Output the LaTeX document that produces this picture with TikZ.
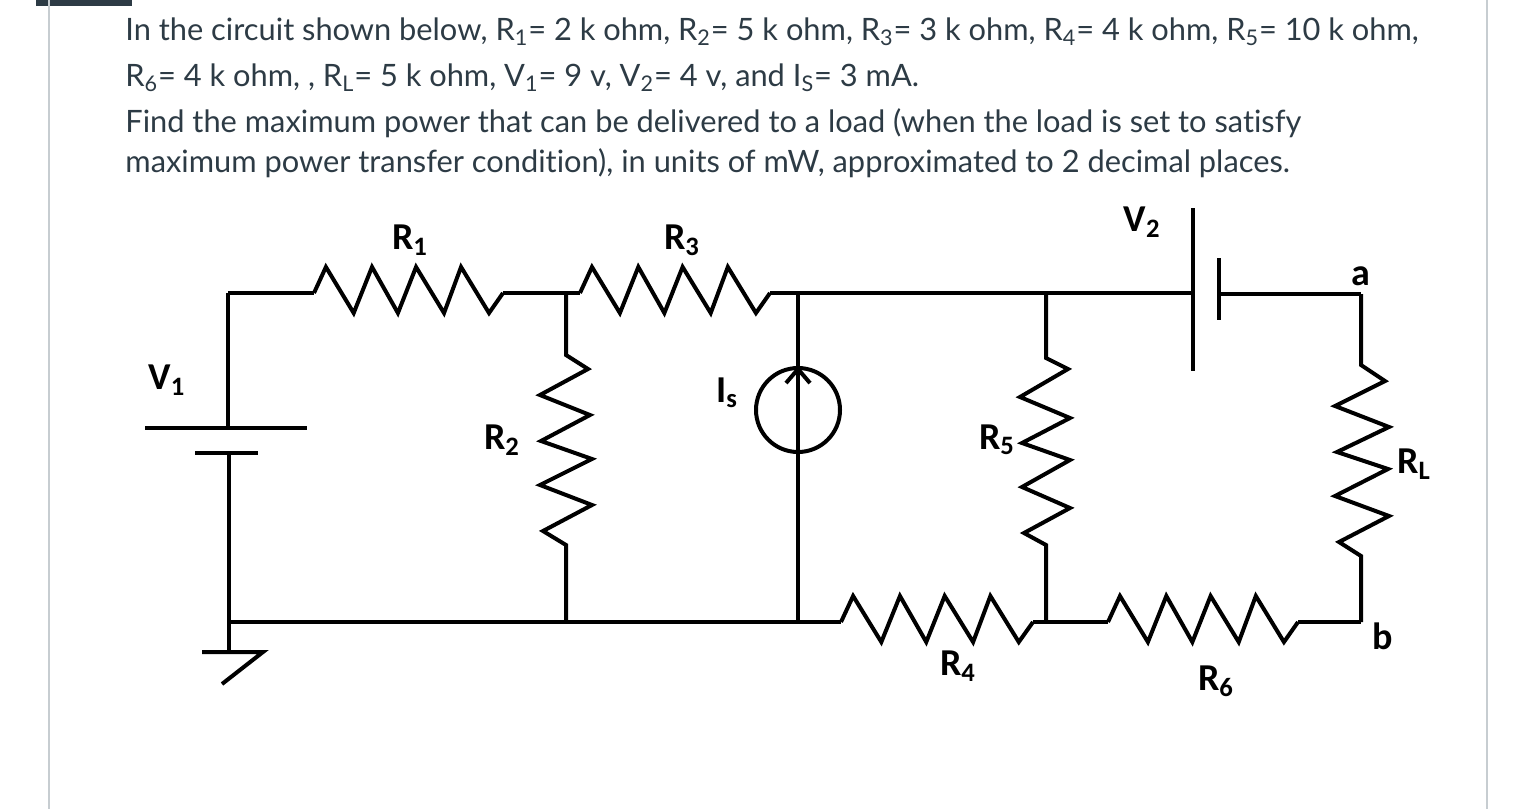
\documentclass[tikz,border=0pt]{standalone}
\usepackage{fontspec}
\usetikzlibrary{arrows.meta}
\setmainfont{Lato}[Ligatures=NoCommon]
\newfontfamily\lblfont{Carlito}
\definecolor{txt}{HTML}{2D3B45}
\definecolor{frame}{HTML}{C7CDD1}
\begin{document}
\begin{tikzpicture}[x=0.5pt,y=-0.5pt,
  wire/.style={line width=2pt,line join=miter},
  lbl/.style={font=\lblfont\bfseries\fontsize{19}{21}\selectfont,inner sep=0pt},
  qtext/.style={font=\fontsize{15.4}{18}\selectfont,color=txt,anchor=base west,inner sep=0pt}]
\useasboundingbox (0,0) rectangle (1536,809);
\fill[white] (0,0) rectangle (1536,809);
\fill[txt] (36,0) rectangle (132,6);
\draw[frame,line width=1pt] (49,0) -- (49,809);
\draw[frame,line width=1pt] (1487,0) -- (1487,809);

\node[qtext] (t1) at (125,40) {In the circuit shown below, R\textsubscript{1}= 2 k ohm, R\textsubscript{2}= 5 k ohm, R\textsubscript{3}= 3 k ohm, R\textsubscript{4}= 4 k ohm, R\textsubscript{5}= 10 k ohm,};
\node[qtext] (t2) at (125,86) {R\textsubscript{6}= 4 k ohm, , R\textsubscript{L}= 5 k ohm, V\textsubscript{1}= 9 v, V\textsubscript{2}= 4 v, and I\textsubscript{S}= 3 mA.};
\node[qtext] (t3) at (125,132) {Find the maximum power that can be delivered to a load (when the load is set to satisfy};
\node[qtext] (t4) at (125,172) {maximum power transfer condition), in units of mW, approximated to 2 decimal places.};

\coordinate (tl) at (228,293);
\coordinate (j2) at (566,293);
\coordinate (j3) at (798,293);
\coordinate (j5) at (1046,293);
\coordinate (ta) at (1361,294);
\coordinate (bl) at (229,622);
\coordinate (b2) at (566,622);
\coordinate (b3) at (798,622);
\coordinate (b5) at (1046,622);
\coordinate (bb) at (1361,622);

\tikzset{hres/.pic={\draw[wire] (0,0)--(0.063,-1)--(0.21,0.77)--(0.307,-1)--(0.444,0.77)--(0.54,-1)--(0.688,0.77)--(0.778,-1)--(0.926,0.77)--(1,0);}}

\draw[wire] (tl) -- (228,428);
\draw[wire] (145,428) -- (307,428);
\draw[wire] (195,453) -- (258,453);
\draw[wire] (229,453) -- (229,652);
\draw[wire] (202,652) -- (263,652) -- (222,684);

\draw[wire] (tl) -- (314,293);
\pic[xscale=189,yscale=26] at (314,293) {hres};
\draw[wire] (503,293) -- (j2) -- (580,293);
\pic[xscale=190,yscale=26] at (580,293) {hres};
\draw[wire] (770,293) -- (j3) -- (j5) -- (1193,293);

\draw[wire] (1193,208) -- (1193,371);
\draw[wire] (1219,258) -- (1219,320);
\draw[wire] (1219,294) -- (ta);

\draw[wire] (j2) -- (566,355) -- (588,369) -- (540,395) -- (590,415) -- (541,441) -- (592,459) -- (540,485) -- (592,505) -- (543,531) -- (566,545) -- (b2);

\node[draw,circle,line width=2pt,minimum size=42pt,inner sep=0pt] (is) at (798,410) {};
\draw[wire] (j3) -- (is.north);
\draw[wire] (is.south) -- (b3);
\draw[wire,-{Straight Barb[length=7pt,width=12pt]}] (is.south) -- (is.north);

\draw[wire] (j5) -- (1046,358) -- (1068,369) -- (1020,397) -- (1070,418) -- (1022,443) -- (1070,460) -- (1022,487) -- (1070,508) -- (1024,533) -- (1046,545) -- (b5);

\draw[wire] (ta) -- (1361,365) -- (1385,381) -- (1335,406) -- (1389,427) -- (1337,452) -- (1388,469) -- (1335,496) -- (1389,516) -- (1339,542) -- (1361,556) -- (bb);

\draw[wire] (bl) -- (b2) -- (b3) -- (841,622);
\pic[xscale=192,yscale=26] at (841,622) {hres};
\draw[wire] (1033,622) -- (b5) -- (1108,622);
\pic[xscale=190,yscale=26] at (1108,622) {hres};
\draw[wire] (1298,622) -- (bb);

\node[lbl] (lR1) at (410,240) {R\textsubscript{1}};
\node[lbl] (lR3) at (682,240) {R\textsubscript{3}};
\node[lbl] (lV2) at (1142,222) {V\textsubscript{2}};
\node[lbl] (la) at (1361,276) {a};
\node[lbl] (lV1) at (167,380) {V\textsubscript{1}};
\node[lbl] (lIs) at (727,393) {I\textsubscript{s}};
\node[lbl] (lR2) at (502,440) {R\textsubscript{2}};
\node[lbl] (lR5) at (997,440) {R\textsubscript{5}};
\node[lbl] (lRL) at (1414,464) {R\textsubscript{L}};
\node[lbl] (lR4) at (958,666) {R\textsubscript{4}};
\node[lbl] (lR6) at (1216,681) {R\textsubscript{6}};
\node[lbl] (lb) at (1383,636) {b};
\end{tikzpicture}
\end{document}
